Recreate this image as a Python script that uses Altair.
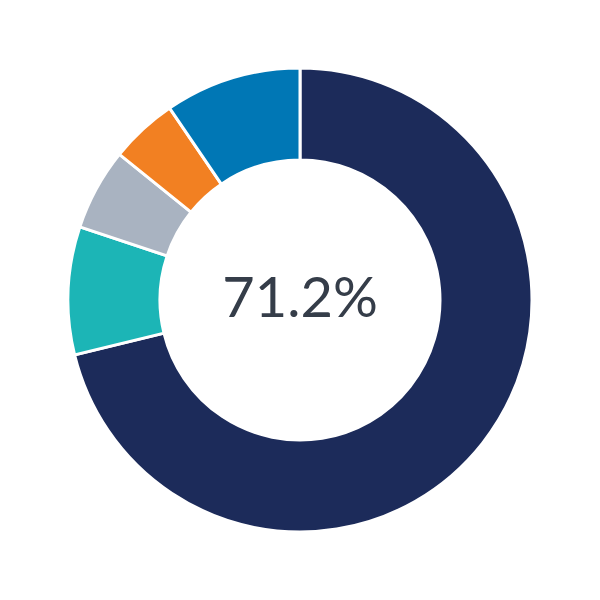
import altair as alt
import pandas as pd

categories = ["A", "B", "C", "D", "E"]
values = [71.2, 8.9, 5.7, 4.7, 9.5]
colors = ["#1c2b5a", "#1cb5b6", "#a9b3c1", "#f28022", "#0077b5"]
center_label = "71.2%"

df = pd.DataFrame({"category": categories, "value": values, "order": list(range(len(categories)))})

arc = alt.Chart(df).mark_arc(outerRadius=232, innerRadius=140, stroke="white", strokeWidth=3).encode(
    theta=alt.Theta("value:Q", stack=True),
    order=alt.Order("order:Q"),
    color=alt.Color("category:N", scale=alt.Scale(domain=categories, range=colors), legend=None),
)

text = alt.Chart(pd.DataFrame({"t": [center_label]})).mark_text(
    font="Lato", fontSize=56, color="#353d49", align="center", baseline="middle"
).encode(text="t:N")

chart = alt.layer(arc, text).properties(width=584, height=584, padding=0).configure_view(stroke=None)
chart.save("out.html", embed_options={"renderer": "svg", "actions": False})
